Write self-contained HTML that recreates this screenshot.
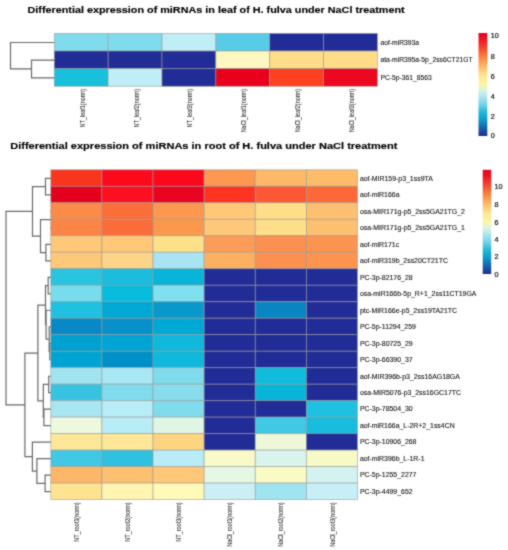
<!DOCTYPE html><html><head><meta charset="utf-8"><style>html,body{margin:0;padding:0;background:#fff;}svg{display:block;}text{font-family:"Liberation Sans",sans-serif;}</style></head><body>
<svg width="508" height="550" viewBox="0 0 508 550">
<defs>
<linearGradient id="g1" x1="0" y1="0" x2="0" y2="1"><stop offset="0" stop-color="#e8001e"/><stop offset="0.06" stop-color="#ec1424"/><stop offset="0.15" stop-color="#f44a2c"/><stop offset="0.24" stop-color="#f8883f"/><stop offset="0.34" stop-color="#fdc070"/><stop offset="0.42" stop-color="#fee896"/><stop offset="0.5" stop-color="#fcf6a4"/><stop offset="0.56" stop-color="#d8f2e8"/><stop offset="0.63" stop-color="#a8e2f0"/><stop offset="0.7" stop-color="#70d0ea"/><stop offset="0.77" stop-color="#20b8d8"/><stop offset="0.84" stop-color="#109ccc"/><stop offset="0.92" stop-color="#1464b0"/><stop offset="1" stop-color="#1f2c8c"/></linearGradient>
<linearGradient id="g2" x1="0" y1="0" x2="0" y2="1"><stop offset="0" stop-color="#e8001e"/><stop offset="0.06" stop-color="#ec1424"/><stop offset="0.15" stop-color="#f44a2c"/><stop offset="0.24" stop-color="#f8883f"/><stop offset="0.34" stop-color="#fdc070"/><stop offset="0.42" stop-color="#fee896"/><stop offset="0.5" stop-color="#fcf6a4"/><stop offset="0.56" stop-color="#d8f2e8"/><stop offset="0.63" stop-color="#a8e2f0"/><stop offset="0.7" stop-color="#70d0ea"/><stop offset="0.77" stop-color="#20b8d8"/><stop offset="0.84" stop-color="#109ccc"/><stop offset="0.92" stop-color="#1464b0"/><stop offset="1" stop-color="#1f2c8c"/></linearGradient>
<filter id="bl" x="0" y="0" width="1" height="1" color-interpolation-filters="sRGB"><feConvolveMatrix order="3" kernelMatrix="1 2 1 2 12 2 1 2 1" divisor="24" edgeMode="duplicate"/></filter>
</defs>
<g filter="url(#bl)"><rect width="508" height="550" fill="#fff"/>
<text x="27.5" y="12.9" font-size="9.5" font-weight="bold" fill="#000" stroke="#000" stroke-width="0.15" textLength="377.2" lengthAdjust="spacingAndGlyphs">Differential expression of miRNAs in leaf of H. fulva under NaCl treatment</text>
<text x="10.2" y="148.9" font-size="9.5" font-weight="bold" fill="#000" stroke="#000" stroke-width="0.15" textLength="387.2" lengthAdjust="spacingAndGlyphs">Differential expression of miRNAs in root of H. fulva under NaCl treatment</text>
<path d="M10.50 42.52L10.50 68.97M10.50 42.52L54.30 42.52M10.50 68.97L31.50 68.97M31.50 60.15L31.50 77.78M31.50 60.15L54.30 60.15M31.50 77.78L54.30 77.78M45.50 178.35L45.50 194.84M45.50 178.35L50.80 178.35M45.50 194.84L50.80 194.84M51.50 211.33L51.50 227.82M51.50 211.33L50.80 211.33M51.50 227.82L50.80 227.82M45.90 244.31L45.90 260.80M45.90 244.31L50.80 244.31M45.90 260.80L50.80 260.80M40.50 219.57L40.50 252.55M40.50 219.57L51.50 219.57M40.50 252.55L45.90 252.55M32.50 186.59L32.50 236.06M32.50 186.59L45.50 186.59M32.50 236.06L40.50 236.06M48.20 277.29L48.20 293.78M48.20 277.29L50.80 277.29M48.20 293.78L50.80 293.78M49.80 343.25L49.80 359.74M49.80 343.25L50.80 343.25M49.80 359.74L50.80 359.74M49.20 326.76L49.20 351.49M49.20 326.76L50.80 326.76M49.20 351.49L49.80 351.49M46.10 310.27L46.10 339.12M46.10 310.27L50.80 310.27M46.10 339.12L49.20 339.12M45.50 285.53L45.50 324.69M45.50 285.53L48.20 285.53M45.50 324.69L46.10 324.69M48.70 376.23L48.70 392.72M48.70 376.23L50.80 376.23M48.70 392.72L50.80 392.72M43.90 409.21L43.90 425.70M43.90 409.21L50.80 409.21M43.90 425.70L50.80 425.70M43.30 384.47L43.30 417.45M43.30 384.47L48.70 384.47M43.30 417.45L43.90 417.45M37.90 305.11L37.90 400.96M37.90 305.11L45.50 305.11M37.90 400.96L43.30 400.96M45.10 475.17L45.10 491.66M45.10 475.17L50.80 475.17M45.10 491.66L50.80 491.66M36.90 458.68L36.90 483.41M36.90 458.68L50.80 458.68M36.90 483.41L45.10 483.41M32.40 442.19L32.40 471.04M32.40 442.19L50.80 442.19M32.40 471.04L36.90 471.04M24.90 353.04L24.90 456.61M24.90 353.04L37.90 353.04M24.90 456.61L32.40 456.61M6.00 211.33L6.00 404.82M6.00 211.33L32.50 211.33M6.00 404.82L24.90 404.82" stroke="#6a6a6a" stroke-width="1.2" fill="none" stroke-linecap="square"/>
<rect x="54.30" y="33.40" width="53.85" height="17.63" fill="#80dcec" stroke="#9a9a9a" stroke-opacity="0.7" stroke-width="0.8"/>
<rect x="108.15" y="33.40" width="53.85" height="17.63" fill="#80dcec" stroke="#9a9a9a" stroke-opacity="0.7" stroke-width="0.8"/>
<rect x="162.00" y="33.40" width="53.85" height="17.63" fill="#c0eef6" stroke="#9a9a9a" stroke-opacity="0.7" stroke-width="0.8"/>
<rect x="215.85" y="33.40" width="53.85" height="17.63" fill="#58cce6" stroke="#9a9a9a" stroke-opacity="0.7" stroke-width="0.8"/>
<rect x="269.70" y="33.40" width="53.85" height="17.63" fill="#222c96" stroke="#9a9a9a" stroke-opacity="0.7" stroke-width="0.8"/>
<rect x="323.55" y="33.40" width="53.85" height="17.63" fill="#222c96" stroke="#9a9a9a" stroke-opacity="0.7" stroke-width="0.8"/>
<rect x="54.30" y="51.03" width="53.85" height="17.63" fill="#222c96" stroke="#9a9a9a" stroke-opacity="0.7" stroke-width="0.8"/>
<rect x="108.15" y="51.03" width="53.85" height="17.63" fill="#222c96" stroke="#9a9a9a" stroke-opacity="0.7" stroke-width="0.8"/>
<rect x="162.00" y="51.03" width="53.85" height="17.63" fill="#222c96" stroke="#9a9a9a" stroke-opacity="0.7" stroke-width="0.8"/>
<rect x="215.85" y="51.03" width="53.85" height="17.63" fill="#fef8c0" stroke="#9a9a9a" stroke-opacity="0.7" stroke-width="0.8"/>
<rect x="269.70" y="51.03" width="53.85" height="17.63" fill="#fedc88" stroke="#9a9a9a" stroke-opacity="0.7" stroke-width="0.8"/>
<rect x="323.55" y="51.03" width="53.85" height="17.63" fill="#fedc88" stroke="#9a9a9a" stroke-opacity="0.7" stroke-width="0.8"/>
<rect x="54.30" y="68.67" width="53.85" height="17.63" fill="#18c0dc" stroke="#9a9a9a" stroke-opacity="0.7" stroke-width="0.8"/>
<rect x="108.15" y="68.67" width="53.85" height="17.63" fill="#c0eef6" stroke="#9a9a9a" stroke-opacity="0.7" stroke-width="0.8"/>
<rect x="162.00" y="68.67" width="53.85" height="17.63" fill="#222c96" stroke="#9a9a9a" stroke-opacity="0.7" stroke-width="0.8"/>
<rect x="215.85" y="68.67" width="53.85" height="17.63" fill="#e8001c" stroke="#9a9a9a" stroke-opacity="0.7" stroke-width="0.8"/>
<rect x="269.70" y="68.67" width="53.85" height="17.63" fill="#fc4020" stroke="#9a9a9a" stroke-opacity="0.7" stroke-width="0.8"/>
<rect x="323.55" y="68.67" width="53.85" height="17.63" fill="#ec0820" stroke="#9a9a9a" stroke-opacity="0.7" stroke-width="0.8"/>
<rect x="50.80" y="169.80" width="51.12" height="16.49" fill="#f8361e" stroke="#9a9a9a" stroke-opacity="0.7" stroke-width="0.8"/>
<rect x="101.92" y="169.80" width="51.12" height="16.49" fill="#fc0a1c" stroke="#9a9a9a" stroke-opacity="0.7" stroke-width="0.8"/>
<rect x="153.03" y="169.80" width="51.12" height="16.49" fill="#fc081c" stroke="#9a9a9a" stroke-opacity="0.7" stroke-width="0.8"/>
<rect x="204.15" y="169.80" width="51.12" height="16.49" fill="#fc9850" stroke="#9a9a9a" stroke-opacity="0.7" stroke-width="0.8"/>
<rect x="255.27" y="169.80" width="51.12" height="16.49" fill="#fdb868" stroke="#9a9a9a" stroke-opacity="0.7" stroke-width="0.8"/>
<rect x="306.38" y="169.80" width="51.12" height="16.49" fill="#fdbc68" stroke="#9a9a9a" stroke-opacity="0.7" stroke-width="0.8"/>
<rect x="50.80" y="186.29" width="51.12" height="16.49" fill="#e4001c" stroke="#9a9a9a" stroke-opacity="0.7" stroke-width="0.8"/>
<rect x="101.92" y="186.29" width="51.12" height="16.49" fill="#fc0f20" stroke="#9a9a9a" stroke-opacity="0.7" stroke-width="0.8"/>
<rect x="153.03" y="186.29" width="51.12" height="16.49" fill="#e80420" stroke="#9a9a9a" stroke-opacity="0.7" stroke-width="0.8"/>
<rect x="204.15" y="186.29" width="51.12" height="16.49" fill="#fc3420" stroke="#9a9a9a" stroke-opacity="0.7" stroke-width="0.8"/>
<rect x="255.27" y="186.29" width="51.12" height="16.49" fill="#fc5834" stroke="#9a9a9a" stroke-opacity="0.7" stroke-width="0.8"/>
<rect x="306.38" y="186.29" width="51.12" height="16.49" fill="#fc6838" stroke="#9a9a9a" stroke-opacity="0.7" stroke-width="0.8"/>
<rect x="50.80" y="202.78" width="51.12" height="16.49" fill="#fc8a48" stroke="#9a9a9a" stroke-opacity="0.7" stroke-width="0.8"/>
<rect x="101.92" y="202.78" width="51.12" height="16.49" fill="#fb6e3a" stroke="#9a9a9a" stroke-opacity="0.7" stroke-width="0.8"/>
<rect x="153.03" y="202.78" width="51.12" height="16.49" fill="#fc9850" stroke="#9a9a9a" stroke-opacity="0.7" stroke-width="0.8"/>
<rect x="204.15" y="202.78" width="51.12" height="16.49" fill="#fec878" stroke="#9a9a9a" stroke-opacity="0.7" stroke-width="0.8"/>
<rect x="255.27" y="202.78" width="51.12" height="16.49" fill="#fede88" stroke="#9a9a9a" stroke-opacity="0.7" stroke-width="0.8"/>
<rect x="306.38" y="202.78" width="51.12" height="16.49" fill="#fdc070" stroke="#9a9a9a" stroke-opacity="0.7" stroke-width="0.8"/>
<rect x="50.80" y="219.27" width="51.12" height="16.49" fill="#fc8444" stroke="#9a9a9a" stroke-opacity="0.7" stroke-width="0.8"/>
<rect x="101.92" y="219.27" width="51.12" height="16.49" fill="#fb6c38" stroke="#9a9a9a" stroke-opacity="0.7" stroke-width="0.8"/>
<rect x="153.03" y="219.27" width="51.12" height="16.49" fill="#fc984c" stroke="#9a9a9a" stroke-opacity="0.7" stroke-width="0.8"/>
<rect x="204.15" y="219.27" width="51.12" height="16.49" fill="#fec878" stroke="#9a9a9a" stroke-opacity="0.7" stroke-width="0.8"/>
<rect x="255.27" y="219.27" width="51.12" height="16.49" fill="#fede88" stroke="#9a9a9a" stroke-opacity="0.7" stroke-width="0.8"/>
<rect x="306.38" y="219.27" width="51.12" height="16.49" fill="#fdc070" stroke="#9a9a9a" stroke-opacity="0.7" stroke-width="0.8"/>
<rect x="50.80" y="235.76" width="51.12" height="16.49" fill="#fec878" stroke="#9a9a9a" stroke-opacity="0.7" stroke-width="0.8"/>
<rect x="101.92" y="235.76" width="51.12" height="16.49" fill="#fec878" stroke="#9a9a9a" stroke-opacity="0.7" stroke-width="0.8"/>
<rect x="153.03" y="235.76" width="51.12" height="16.49" fill="#fee088" stroke="#9a9a9a" stroke-opacity="0.7" stroke-width="0.8"/>
<rect x="204.15" y="235.76" width="51.12" height="16.49" fill="#fc9c58" stroke="#9a9a9a" stroke-opacity="0.7" stroke-width="0.8"/>
<rect x="255.27" y="235.76" width="51.12" height="16.49" fill="#fc9050" stroke="#9a9a9a" stroke-opacity="0.7" stroke-width="0.8"/>
<rect x="306.38" y="235.76" width="51.12" height="16.49" fill="#fc9450" stroke="#9a9a9a" stroke-opacity="0.7" stroke-width="0.8"/>
<rect x="50.80" y="252.25" width="51.12" height="16.49" fill="#fec878" stroke="#9a9a9a" stroke-opacity="0.7" stroke-width="0.8"/>
<rect x="101.92" y="252.25" width="51.12" height="16.49" fill="#fed488" stroke="#9a9a9a" stroke-opacity="0.7" stroke-width="0.8"/>
<rect x="153.03" y="252.25" width="51.12" height="16.49" fill="#a8e4f2" stroke="#9a9a9a" stroke-opacity="0.7" stroke-width="0.8"/>
<rect x="204.15" y="252.25" width="51.12" height="16.49" fill="#fcb060" stroke="#9a9a9a" stroke-opacity="0.7" stroke-width="0.8"/>
<rect x="255.27" y="252.25" width="51.12" height="16.49" fill="#fc9050" stroke="#9a9a9a" stroke-opacity="0.7" stroke-width="0.8"/>
<rect x="306.38" y="252.25" width="51.12" height="16.49" fill="#fc9450" stroke="#9a9a9a" stroke-opacity="0.7" stroke-width="0.8"/>
<rect x="50.80" y="268.74" width="51.12" height="16.49" fill="#28c4e0" stroke="#9a9a9a" stroke-opacity="0.7" stroke-width="0.8"/>
<rect x="101.92" y="268.74" width="51.12" height="16.49" fill="#1cbcdc" stroke="#9a9a9a" stroke-opacity="0.7" stroke-width="0.8"/>
<rect x="153.03" y="268.74" width="51.12" height="16.49" fill="#08b4d8" stroke="#9a9a9a" stroke-opacity="0.7" stroke-width="0.8"/>
<rect x="204.15" y="268.74" width="51.12" height="16.49" fill="#222c96" stroke="#9a9a9a" stroke-opacity="0.7" stroke-width="0.8"/>
<rect x="255.27" y="268.74" width="51.12" height="16.49" fill="#222c96" stroke="#9a9a9a" stroke-opacity="0.7" stroke-width="0.8"/>
<rect x="306.38" y="268.74" width="51.12" height="16.49" fill="#222c96" stroke="#9a9a9a" stroke-opacity="0.7" stroke-width="0.8"/>
<rect x="50.80" y="285.23" width="51.12" height="16.49" fill="#78dcec" stroke="#9a9a9a" stroke-opacity="0.7" stroke-width="0.8"/>
<rect x="101.92" y="285.23" width="51.12" height="16.49" fill="#08bcdc" stroke="#9a9a9a" stroke-opacity="0.7" stroke-width="0.8"/>
<rect x="153.03" y="285.23" width="51.12" height="16.49" fill="#80e0f0" stroke="#9a9a9a" stroke-opacity="0.7" stroke-width="0.8"/>
<rect x="204.15" y="285.23" width="51.12" height="16.49" fill="#222c96" stroke="#9a9a9a" stroke-opacity="0.7" stroke-width="0.8"/>
<rect x="255.27" y="285.23" width="51.12" height="16.49" fill="#222c96" stroke="#9a9a9a" stroke-opacity="0.7" stroke-width="0.8"/>
<rect x="306.38" y="285.23" width="51.12" height="16.49" fill="#222c96" stroke="#9a9a9a" stroke-opacity="0.7" stroke-width="0.8"/>
<rect x="50.80" y="301.72" width="51.12" height="16.49" fill="#20c0e0" stroke="#9a9a9a" stroke-opacity="0.7" stroke-width="0.8"/>
<rect x="101.92" y="301.72" width="51.12" height="16.49" fill="#00a8d4" stroke="#9a9a9a" stroke-opacity="0.7" stroke-width="0.8"/>
<rect x="153.03" y="301.72" width="51.12" height="16.49" fill="#0898cc" stroke="#9a9a9a" stroke-opacity="0.7" stroke-width="0.8"/>
<rect x="204.15" y="301.72" width="51.12" height="16.49" fill="#222c96" stroke="#9a9a9a" stroke-opacity="0.7" stroke-width="0.8"/>
<rect x="255.27" y="301.72" width="51.12" height="16.49" fill="#0886c4" stroke="#9a9a9a" stroke-opacity="0.7" stroke-width="0.8"/>
<rect x="306.38" y="301.72" width="51.12" height="16.49" fill="#222c96" stroke="#9a9a9a" stroke-opacity="0.7" stroke-width="0.8"/>
<rect x="50.80" y="318.21" width="51.12" height="16.49" fill="#0888c4" stroke="#9a9a9a" stroke-opacity="0.7" stroke-width="0.8"/>
<rect x="101.92" y="318.21" width="51.12" height="16.49" fill="#0890c8" stroke="#9a9a9a" stroke-opacity="0.7" stroke-width="0.8"/>
<rect x="153.03" y="318.21" width="51.12" height="16.49" fill="#00a8d4" stroke="#9a9a9a" stroke-opacity="0.7" stroke-width="0.8"/>
<rect x="204.15" y="318.21" width="51.12" height="16.49" fill="#222c96" stroke="#9a9a9a" stroke-opacity="0.7" stroke-width="0.8"/>
<rect x="255.27" y="318.21" width="51.12" height="16.49" fill="#222c96" stroke="#9a9a9a" stroke-opacity="0.7" stroke-width="0.8"/>
<rect x="306.38" y="318.21" width="51.12" height="16.49" fill="#222c96" stroke="#9a9a9a" stroke-opacity="0.7" stroke-width="0.8"/>
<rect x="50.80" y="334.70" width="51.12" height="16.49" fill="#00a0d0" stroke="#9a9a9a" stroke-opacity="0.7" stroke-width="0.8"/>
<rect x="101.92" y="334.70" width="51.12" height="16.49" fill="#00a4d4" stroke="#9a9a9a" stroke-opacity="0.7" stroke-width="0.8"/>
<rect x="153.03" y="334.70" width="51.12" height="16.49" fill="#10b8dc" stroke="#9a9a9a" stroke-opacity="0.7" stroke-width="0.8"/>
<rect x="204.15" y="334.70" width="51.12" height="16.49" fill="#222c96" stroke="#9a9a9a" stroke-opacity="0.7" stroke-width="0.8"/>
<rect x="255.27" y="334.70" width="51.12" height="16.49" fill="#222c96" stroke="#9a9a9a" stroke-opacity="0.7" stroke-width="0.8"/>
<rect x="306.38" y="334.70" width="51.12" height="16.49" fill="#222c96" stroke="#9a9a9a" stroke-opacity="0.7" stroke-width="0.8"/>
<rect x="50.80" y="351.19" width="51.12" height="16.49" fill="#00a4d4" stroke="#9a9a9a" stroke-opacity="0.7" stroke-width="0.8"/>
<rect x="101.92" y="351.19" width="51.12" height="16.49" fill="#0090c8" stroke="#9a9a9a" stroke-opacity="0.7" stroke-width="0.8"/>
<rect x="153.03" y="351.19" width="51.12" height="16.49" fill="#10b8dc" stroke="#9a9a9a" stroke-opacity="0.7" stroke-width="0.8"/>
<rect x="204.15" y="351.19" width="51.12" height="16.49" fill="#222c96" stroke="#9a9a9a" stroke-opacity="0.7" stroke-width="0.8"/>
<rect x="255.27" y="351.19" width="51.12" height="16.49" fill="#222c96" stroke="#9a9a9a" stroke-opacity="0.7" stroke-width="0.8"/>
<rect x="306.38" y="351.19" width="51.12" height="16.49" fill="#222c96" stroke="#9a9a9a" stroke-opacity="0.7" stroke-width="0.8"/>
<rect x="50.80" y="367.68" width="51.12" height="16.49" fill="#a0e4f0" stroke="#9a9a9a" stroke-opacity="0.7" stroke-width="0.8"/>
<rect x="101.92" y="367.68" width="51.12" height="16.49" fill="#a8e8f4" stroke="#9a9a9a" stroke-opacity="0.7" stroke-width="0.8"/>
<rect x="153.03" y="367.68" width="51.12" height="16.49" fill="#80dcec" stroke="#9a9a9a" stroke-opacity="0.7" stroke-width="0.8"/>
<rect x="204.15" y="367.68" width="51.12" height="16.49" fill="#222c96" stroke="#9a9a9a" stroke-opacity="0.7" stroke-width="0.8"/>
<rect x="255.27" y="367.68" width="51.12" height="16.49" fill="#10bcdc" stroke="#9a9a9a" stroke-opacity="0.7" stroke-width="0.8"/>
<rect x="306.38" y="367.68" width="51.12" height="16.49" fill="#222c96" stroke="#9a9a9a" stroke-opacity="0.7" stroke-width="0.8"/>
<rect x="50.80" y="384.17" width="51.12" height="16.49" fill="#38c4e0" stroke="#9a9a9a" stroke-opacity="0.7" stroke-width="0.8"/>
<rect x="101.92" y="384.17" width="51.12" height="16.49" fill="#80dcec" stroke="#9a9a9a" stroke-opacity="0.7" stroke-width="0.8"/>
<rect x="153.03" y="384.17" width="51.12" height="16.49" fill="#88dcec" stroke="#9a9a9a" stroke-opacity="0.7" stroke-width="0.8"/>
<rect x="204.15" y="384.17" width="51.12" height="16.49" fill="#222c96" stroke="#9a9a9a" stroke-opacity="0.7" stroke-width="0.8"/>
<rect x="255.27" y="384.17" width="51.12" height="16.49" fill="#08b4d8" stroke="#9a9a9a" stroke-opacity="0.7" stroke-width="0.8"/>
<rect x="306.38" y="384.17" width="51.12" height="16.49" fill="#222c96" stroke="#9a9a9a" stroke-opacity="0.7" stroke-width="0.8"/>
<rect x="50.80" y="400.66" width="51.12" height="16.49" fill="#a8e6f2" stroke="#9a9a9a" stroke-opacity="0.7" stroke-width="0.8"/>
<rect x="101.92" y="400.66" width="51.12" height="16.49" fill="#b8ecf6" stroke="#9a9a9a" stroke-opacity="0.7" stroke-width="0.8"/>
<rect x="153.03" y="400.66" width="51.12" height="16.49" fill="#80dcec" stroke="#9a9a9a" stroke-opacity="0.7" stroke-width="0.8"/>
<rect x="204.15" y="400.66" width="51.12" height="16.49" fill="#222c96" stroke="#9a9a9a" stroke-opacity="0.7" stroke-width="0.8"/>
<rect x="255.27" y="400.66" width="51.12" height="16.49" fill="#222c96" stroke="#9a9a9a" stroke-opacity="0.7" stroke-width="0.8"/>
<rect x="306.38" y="400.66" width="51.12" height="16.49" fill="#20c0e0" stroke="#9a9a9a" stroke-opacity="0.7" stroke-width="0.8"/>
<rect x="50.80" y="417.15" width="51.12" height="16.49" fill="#eef8dc" stroke="#9a9a9a" stroke-opacity="0.7" stroke-width="0.8"/>
<rect x="101.92" y="417.15" width="51.12" height="16.49" fill="#b8ecf6" stroke="#9a9a9a" stroke-opacity="0.7" stroke-width="0.8"/>
<rect x="153.03" y="417.15" width="51.12" height="16.49" fill="#e0f6e4" stroke="#9a9a9a" stroke-opacity="0.7" stroke-width="0.8"/>
<rect x="204.15" y="417.15" width="51.12" height="16.49" fill="#222c96" stroke="#9a9a9a" stroke-opacity="0.7" stroke-width="0.8"/>
<rect x="255.27" y="417.15" width="51.12" height="16.49" fill="#40c8e4" stroke="#9a9a9a" stroke-opacity="0.7" stroke-width="0.8"/>
<rect x="306.38" y="417.15" width="51.12" height="16.49" fill="#18bcdc" stroke="#9a9a9a" stroke-opacity="0.7" stroke-width="0.8"/>
<rect x="50.80" y="433.64" width="51.12" height="16.49" fill="#fee898" stroke="#9a9a9a" stroke-opacity="0.7" stroke-width="0.8"/>
<rect x="101.92" y="433.64" width="51.12" height="16.49" fill="#fee898" stroke="#9a9a9a" stroke-opacity="0.7" stroke-width="0.8"/>
<rect x="153.03" y="433.64" width="51.12" height="16.49" fill="#fed480" stroke="#9a9a9a" stroke-opacity="0.7" stroke-width="0.8"/>
<rect x="204.15" y="433.64" width="51.12" height="16.49" fill="#222c96" stroke="#9a9a9a" stroke-opacity="0.7" stroke-width="0.8"/>
<rect x="255.27" y="433.64" width="51.12" height="16.49" fill="#eef8d8" stroke="#9a9a9a" stroke-opacity="0.7" stroke-width="0.8"/>
<rect x="306.38" y="433.64" width="51.12" height="16.49" fill="#222c96" stroke="#9a9a9a" stroke-opacity="0.7" stroke-width="0.8"/>
<rect x="50.80" y="450.13" width="51.12" height="16.49" fill="#40c8e4" stroke="#9a9a9a" stroke-opacity="0.7" stroke-width="0.8"/>
<rect x="101.92" y="450.13" width="51.12" height="16.49" fill="#30c0e0" stroke="#9a9a9a" stroke-opacity="0.7" stroke-width="0.8"/>
<rect x="153.03" y="450.13" width="51.12" height="16.49" fill="#b8ecf8" stroke="#9a9a9a" stroke-opacity="0.7" stroke-width="0.8"/>
<rect x="204.15" y="450.13" width="51.12" height="16.49" fill="#f8fac8" stroke="#9a9a9a" stroke-opacity="0.7" stroke-width="0.8"/>
<rect x="255.27" y="450.13" width="51.12" height="16.49" fill="#d8f4ec" stroke="#9a9a9a" stroke-opacity="0.7" stroke-width="0.8"/>
<rect x="306.38" y="450.13" width="51.12" height="16.49" fill="#f6fac4" stroke="#9a9a9a" stroke-opacity="0.7" stroke-width="0.8"/>
<rect x="50.80" y="466.62" width="51.12" height="16.49" fill="#fcb868" stroke="#9a9a9a" stroke-opacity="0.7" stroke-width="0.8"/>
<rect x="101.92" y="466.62" width="51.12" height="16.49" fill="#fcc070" stroke="#9a9a9a" stroke-opacity="0.7" stroke-width="0.8"/>
<rect x="153.03" y="466.62" width="51.12" height="16.49" fill="#fec878" stroke="#9a9a9a" stroke-opacity="0.7" stroke-width="0.8"/>
<rect x="204.15" y="466.62" width="51.12" height="16.49" fill="#e4f8e4" stroke="#9a9a9a" stroke-opacity="0.7" stroke-width="0.8"/>
<rect x="255.27" y="466.62" width="51.12" height="16.49" fill="#fafac4" stroke="#9a9a9a" stroke-opacity="0.7" stroke-width="0.8"/>
<rect x="306.38" y="466.62" width="51.12" height="16.49" fill="#d4f2f0" stroke="#9a9a9a" stroke-opacity="0.7" stroke-width="0.8"/>
<rect x="50.80" y="483.11" width="51.12" height="16.49" fill="#fee490" stroke="#9a9a9a" stroke-opacity="0.7" stroke-width="0.8"/>
<rect x="101.92" y="483.11" width="51.12" height="16.49" fill="#fff4b0" stroke="#9a9a9a" stroke-opacity="0.7" stroke-width="0.8"/>
<rect x="153.03" y="483.11" width="51.12" height="16.49" fill="#fffab8" stroke="#9a9a9a" stroke-opacity="0.7" stroke-width="0.8"/>
<rect x="204.15" y="483.11" width="51.12" height="16.49" fill="#cceff6" stroke="#9a9a9a" stroke-opacity="0.7" stroke-width="0.8"/>
<rect x="255.27" y="483.11" width="51.12" height="16.49" fill="#a0e4f0" stroke="#9a9a9a" stroke-opacity="0.7" stroke-width="0.8"/>
<rect x="306.38" y="483.11" width="51.12" height="16.49" fill="#c8eef6" stroke="#9a9a9a" stroke-opacity="0.7" stroke-width="0.8"/>
<text x="380.5" y="44.82" font-size="6.3" fill="#222" stroke="#222" stroke-width="0.12" transform="translate(380.5 0) scale(1.07 1) translate(-380.5 0)">aof-miR393a</text>
<text x="380.5" y="62.45" font-size="6.3" fill="#222" stroke="#222" stroke-width="0.12" transform="translate(380.5 0) scale(1.07 1) translate(-380.5 0)">ata-miR395a-5p_2ss6CT21GT</text>
<text x="380.5" y="80.09" font-size="6.3" fill="#222" stroke="#222" stroke-width="0.12" transform="translate(380.5 0) scale(1.07 1) translate(-380.5 0)">PC-5p-361_8563</text>
<text x="359.9" y="180.65" font-size="6.3" fill="#222" stroke="#222" stroke-width="0.12" transform="translate(359.9 0) scale(1.1 1) translate(-359.9 0)">aof-MIR159-p3_1ss9TA</text>
<text x="359.9" y="197.14" font-size="6.3" fill="#222" stroke="#222" stroke-width="0.12" transform="translate(359.9 0) scale(1.1 1) translate(-359.9 0)">aof-miR166a</text>
<text x="359.9" y="213.63" font-size="6.3" fill="#222" stroke="#222" stroke-width="0.12" transform="translate(359.9 0) scale(1.1 1) translate(-359.9 0)">osa-MIR171g-p5_2ss5GA21TG_2</text>
<text x="359.9" y="230.12" font-size="6.3" fill="#222" stroke="#222" stroke-width="0.12" transform="translate(359.9 0) scale(1.1 1) translate(-359.9 0)">osa-MIR171g-p5_2ss5GA21TG_1</text>
<text x="359.9" y="246.61" font-size="6.3" fill="#222" stroke="#222" stroke-width="0.12" transform="translate(359.9 0) scale(1.1 1) translate(-359.9 0)">aof-miR171c</text>
<text x="359.9" y="263.10" font-size="6.3" fill="#222" stroke="#222" stroke-width="0.12" transform="translate(359.9 0) scale(1.1 1) translate(-359.9 0)">aof-miR319b_2ss20CT21TC</text>
<text x="359.9" y="279.59" font-size="6.3" fill="#222" stroke="#222" stroke-width="0.12" transform="translate(359.9 0) scale(1.1 1) translate(-359.9 0)">PC-3p-82176_28</text>
<text x="359.9" y="296.08" font-size="6.3" fill="#222" stroke="#222" stroke-width="0.12" transform="translate(359.9 0) scale(1.1 1) translate(-359.9 0)">osa-miR166b-5p_R+1_2ss11CT19GA</text>
<text x="359.9" y="312.57" font-size="6.3" fill="#222" stroke="#222" stroke-width="0.12" transform="translate(359.9 0) scale(1.1 1) translate(-359.9 0)">ptc-MIR166e-p5_2ss19TA21TC</text>
<text x="359.9" y="329.06" font-size="6.3" fill="#222" stroke="#222" stroke-width="0.12" transform="translate(359.9 0) scale(1.1 1) translate(-359.9 0)">PC-5p-11294_259</text>
<text x="359.9" y="345.55" font-size="6.3" fill="#222" stroke="#222" stroke-width="0.12" transform="translate(359.9 0) scale(1.1 1) translate(-359.9 0)">PC-3p-80725_29</text>
<text x="359.9" y="362.04" font-size="6.3" fill="#222" stroke="#222" stroke-width="0.12" transform="translate(359.9 0) scale(1.1 1) translate(-359.9 0)">PC-3p-66390_37</text>
<text x="359.9" y="378.53" font-size="6.3" fill="#222" stroke="#222" stroke-width="0.12" transform="translate(359.9 0) scale(1.1 1) translate(-359.9 0)">aof-MIR396b-p3_2ss16AG18GA</text>
<text x="359.9" y="395.02" font-size="6.3" fill="#222" stroke="#222" stroke-width="0.12" transform="translate(359.9 0) scale(1.1 1) translate(-359.9 0)">osa-MIR5076-p3_2ss16GC17TC</text>
<text x="359.9" y="411.51" font-size="6.3" fill="#222" stroke="#222" stroke-width="0.12" transform="translate(359.9 0) scale(1.1 1) translate(-359.9 0)">PC-3p-78504_30</text>
<text x="359.9" y="428.00" font-size="6.3" fill="#222" stroke="#222" stroke-width="0.12" transform="translate(359.9 0) scale(1.1 1) translate(-359.9 0)">aof-miR166a_L-2R+2_1ss4CN</text>
<text x="359.9" y="444.49" font-size="6.3" fill="#222" stroke="#222" stroke-width="0.12" transform="translate(359.9 0) scale(1.1 1) translate(-359.9 0)">PC-3p-10906_268</text>
<text x="359.9" y="460.98" font-size="6.3" fill="#222" stroke="#222" stroke-width="0.12" transform="translate(359.9 0) scale(1.1 1) translate(-359.9 0)">aof-miR396b_L-1R-1</text>
<text x="359.9" y="477.47" font-size="6.3" fill="#222" stroke="#222" stroke-width="0.12" transform="translate(359.9 0) scale(1.1 1) translate(-359.9 0)">PC-5p-1255_2277</text>
<text x="359.9" y="493.96" font-size="6.3" fill="#222" stroke="#222" stroke-width="0.12" transform="translate(359.9 0) scale(1.1 1) translate(-359.9 0)">PC-3p-4499_652</text>
<text x="0" y="0" font-size="6.8" fill="#262626" stroke="#262626" stroke-width="0.05" text-anchor="end" transform="translate(84.65 89.0) rotate(-90) scale(0.81 1)">NT_leaf1(norm)</text>
<text x="0" y="0" font-size="6.8" fill="#262626" stroke="#262626" stroke-width="0.05" text-anchor="end" transform="translate(138.50 89.0) rotate(-90) scale(0.81 1)">NT_leaf2(norm)</text>
<text x="0" y="0" font-size="6.8" fill="#262626" stroke="#262626" stroke-width="0.05" text-anchor="end" transform="translate(192.36 89.0) rotate(-90) scale(0.81 1)">NT_leaf3(norm)</text>
<text x="0" y="0" font-size="6.8" fill="#262626" stroke="#262626" stroke-width="0.05" text-anchor="end" transform="translate(246.20 89.0) rotate(-90) scale(0.81 1)">NaCl_leaf1(norm)</text>
<text x="0" y="0" font-size="6.8" fill="#262626" stroke="#262626" stroke-width="0.05" text-anchor="end" transform="translate(300.06 89.0) rotate(-90) scale(0.81 1)">NaCl_leaf2(norm)</text>
<text x="0" y="0" font-size="6.8" fill="#262626" stroke="#262626" stroke-width="0.05" text-anchor="end" transform="translate(353.90 89.0) rotate(-90) scale(0.81 1)">NaCl_leaf3(norm)</text>
<text x="0" y="0" font-size="6.8" fill="#262626" stroke="#262626" stroke-width="0.05" text-anchor="end" transform="translate(78.99 502.3) rotate(-90) scale(0.82 1)">NT_root1(norm)</text>
<text x="0" y="0" font-size="6.8" fill="#262626" stroke="#262626" stroke-width="0.05" text-anchor="end" transform="translate(130.10 502.3) rotate(-90) scale(0.82 1)">NT_root2(norm)</text>
<text x="0" y="0" font-size="6.8" fill="#262626" stroke="#262626" stroke-width="0.05" text-anchor="end" transform="translate(181.22 502.3) rotate(-90) scale(0.82 1)">NT_root3(norm)</text>
<text x="0" y="0" font-size="6.8" fill="#262626" stroke="#262626" stroke-width="0.05" text-anchor="end" transform="translate(232.34 502.3) rotate(-90) scale(0.82 1)">NaCl_root1(norm)</text>
<text x="0" y="0" font-size="6.8" fill="#262626" stroke="#262626" stroke-width="0.05" text-anchor="end" transform="translate(283.45 502.3) rotate(-90) scale(0.82 1)">NaCl_root2(norm)</text>
<text x="0" y="0" font-size="6.8" fill="#262626" stroke="#262626" stroke-width="0.05" text-anchor="end" transform="translate(334.57 502.3) rotate(-90) scale(0.82 1)">NaCl_root3(norm)</text>
<rect x="478.5" y="33" width="8.8" height="103" fill="url(#g1)"/>
<rect x="482.7" y="169.8" width="8.5" height="104.2" fill="url(#g2)"/>
<text x="490.8" y="38.09" font-size="7.2" fill="#151515" stroke="#151515" stroke-width="0.22">10</text>
<text x="490.8" y="58.59" font-size="7.2" fill="#151515" stroke="#151515" stroke-width="0.22">8</text>
<text x="490.8" y="78.89" font-size="7.2" fill="#151515" stroke="#151515" stroke-width="0.22">6</text>
<text x="490.8" y="98.59" font-size="7.2" fill="#151515" stroke="#151515" stroke-width="0.22">4</text>
<text x="490.8" y="118.99" font-size="7.2" fill="#151515" stroke="#151515" stroke-width="0.22">2</text>
<text x="490.8" y="137.89" font-size="7.2" fill="#151515" stroke="#151515" stroke-width="0.22">0</text>
<text x="494.5" y="189.19" font-size="7.2" fill="#151515" stroke="#151515" stroke-width="0.22">10</text>
<text x="494.5" y="206.89" font-size="7.2" fill="#151515" stroke="#151515" stroke-width="0.22">8</text>
<text x="494.5" y="224.79" font-size="7.2" fill="#151515" stroke="#151515" stroke-width="0.22">6</text>
<text x="494.5" y="241.59" font-size="7.2" fill="#151515" stroke="#151515" stroke-width="0.22">4</text>
<text x="494.5" y="259.09" font-size="7.2" fill="#151515" stroke="#151515" stroke-width="0.22">2</text>
<text x="494.5" y="276.59" font-size="7.2" fill="#151515" stroke="#151515" stroke-width="0.22">0</text>
</g></svg></body></html>
